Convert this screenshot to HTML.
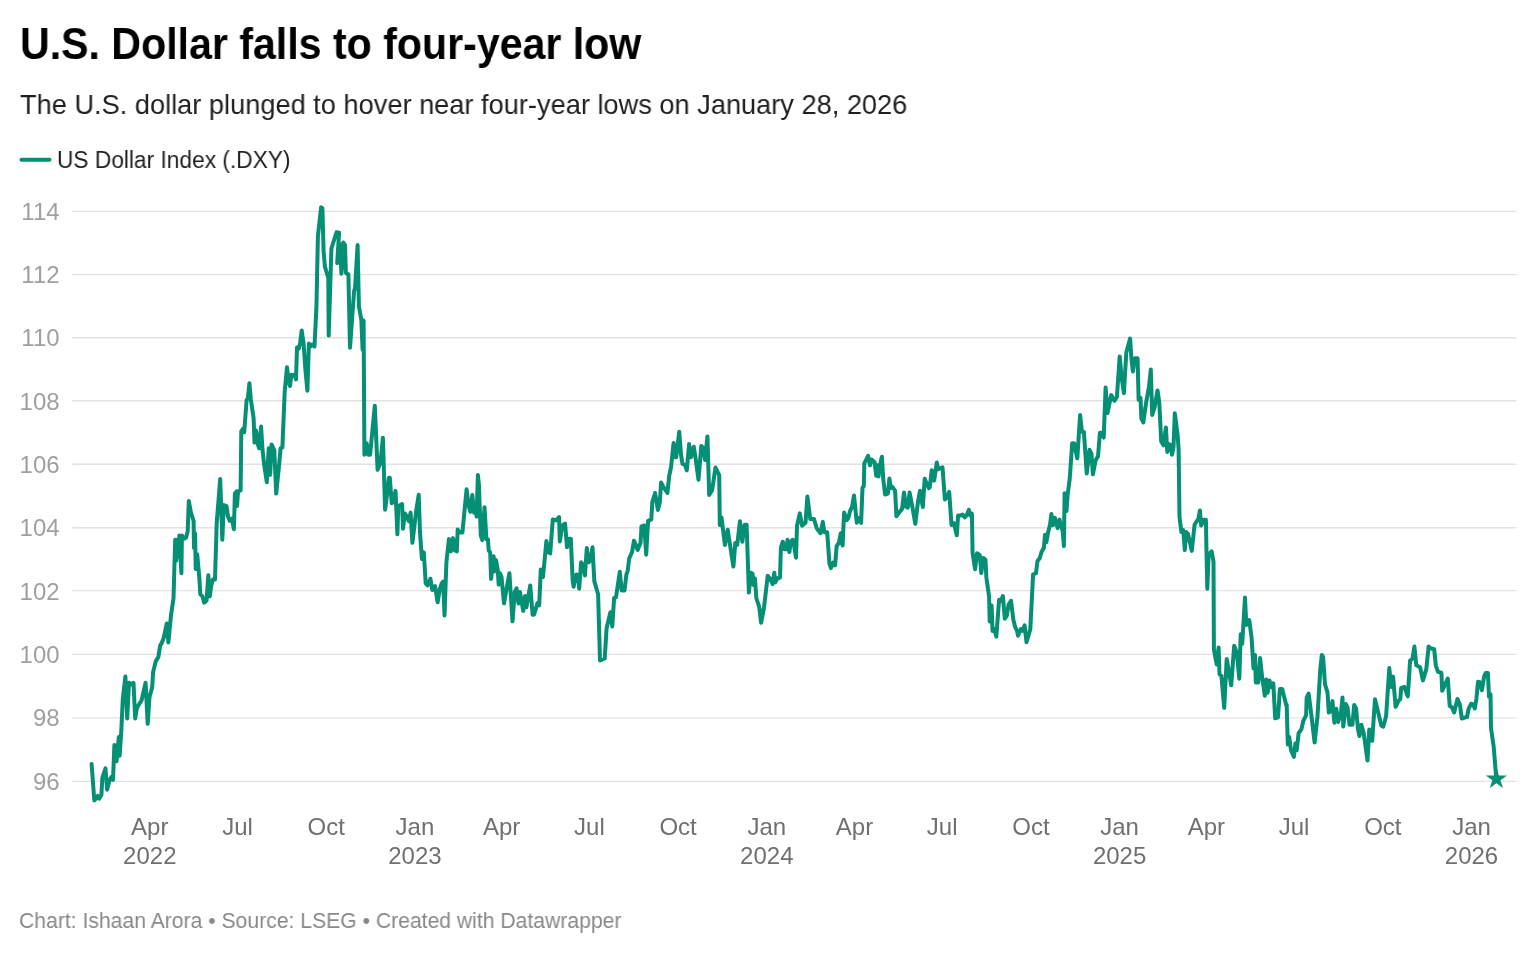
<!DOCTYPE html>
<html><head><meta charset="utf-8"><style>
html,body{margin:0;padding:0;background:#fff;}
body{width:1536px;height:954px;position:relative;overflow:hidden;font-family:"Liberation Sans",sans-serif;}
.t{position:absolute;white-space:nowrap;line-height:1;transform-origin:0 0;will-change:transform;}
svg{position:absolute;left:0;top:0;will-change:transform;}
</style></head><body>
<div class="t" style="left:19.53px;top:22.07px;font-size:44.57px;font-weight:700;color:#000;transform:scaleX(0.9225)">U.S. Dollar falls to four-year low</div>
<div class="t" style="left:19.76px;top:90.55px;font-size:27.83px;font-weight:400;color:#1f1f1f;transform:scaleX(0.9772)">The U.S. dollar plunged to hover near four-year lows on January 28, 2026</div>
<div class="t" style="left:56.58px;top:149.11px;font-size:23.71px;font-weight:400;color:#1f1f1f;transform:scaleX(0.9582)">US Dollar Index (.DXY)</div>
<div class="t" style="left:19.44px;top:910.3px;font-size:21.88px;font-weight:400;color:#888;transform:scaleX(0.9666)">Chart: Ishaan Arora • Source: LSEG • Created with Datawrapper</div>
<svg width="1536" height="954" viewBox="0 0 1536 954">
<line x1="72.2" y1="781.35" x2="1516.4" y2="781.35" stroke="#e2e2e2" stroke-width="1.4"/>
<text x="59.6" y="789.5" text-anchor="end" font-size="24" fill="#a0a0a0" font-family="Liberation Sans">96</text>
<line x1="72.2" y1="717.90" x2="1516.4" y2="717.90" stroke="#e2e2e2" stroke-width="1.4"/>
<text x="59.6" y="726.2" text-anchor="end" font-size="24" fill="#a0a0a0" font-family="Liberation Sans">98</text>
<line x1="72.2" y1="654.40" x2="1516.4" y2="654.40" stroke="#e2e2e2" stroke-width="1.4"/>
<text x="59.6" y="662.9" text-anchor="end" font-size="24" fill="#a0a0a0" font-family="Liberation Sans">100</text>
<line x1="72.2" y1="590.60" x2="1516.4" y2="590.60" stroke="#e2e2e2" stroke-width="1.4"/>
<text x="59.6" y="599.6" text-anchor="end" font-size="24" fill="#a0a0a0" font-family="Liberation Sans">102</text>
<line x1="72.2" y1="527.70" x2="1516.4" y2="527.70" stroke="#e2e2e2" stroke-width="1.4"/>
<text x="59.6" y="536.3" text-anchor="end" font-size="24" fill="#a0a0a0" font-family="Liberation Sans">104</text>
<line x1="72.2" y1="464.20" x2="1516.4" y2="464.20" stroke="#e2e2e2" stroke-width="1.4"/>
<text x="59.6" y="472.9" text-anchor="end" font-size="24" fill="#a0a0a0" font-family="Liberation Sans">106</text>
<line x1="72.2" y1="400.80" x2="1516.4" y2="400.80" stroke="#e2e2e2" stroke-width="1.4"/>
<text x="59.6" y="409.6" text-anchor="end" font-size="24" fill="#a0a0a0" font-family="Liberation Sans">108</text>
<line x1="72.2" y1="337.80" x2="1516.4" y2="337.80" stroke="#e2e2e2" stroke-width="1.4"/>
<text x="59.6" y="346.3" text-anchor="end" font-size="24" fill="#a0a0a0" font-family="Liberation Sans">110</text>
<line x1="72.2" y1="274.60" x2="1516.4" y2="274.60" stroke="#e2e2e2" stroke-width="1.4"/>
<text x="59.6" y="283.0" text-anchor="end" font-size="24" fill="#a0a0a0" font-family="Liberation Sans">112</text>
<line x1="72.2" y1="211.40" x2="1516.4" y2="211.40" stroke="#e2e2e2" stroke-width="1.4"/>
<text x="59.6" y="219.7" text-anchor="end" font-size="24" fill="#a0a0a0" font-family="Liberation Sans">114</text>
<line x1="21.5" y1="159.7" x2="49.5" y2="159.7" stroke="#058f75" stroke-width="4" stroke-linecap="round"/>
<text x="149.8" y="835.0" text-anchor="middle" font-size="24" fill="#707070" font-family="Liberation Sans">Apr</text>
<text x="149.8" y="864.3" text-anchor="middle" font-size="24" fill="#707070" font-family="Liberation Sans">2022</text>
<text x="237.5" y="835.0" text-anchor="middle" font-size="24" fill="#707070" font-family="Liberation Sans">Jul</text>
<text x="326.2" y="835.0" text-anchor="middle" font-size="24" fill="#707070" font-family="Liberation Sans">Oct</text>
<text x="414.9" y="835.0" text-anchor="middle" font-size="24" fill="#707070" font-family="Liberation Sans">Jan</text>
<text x="414.9" y="864.3" text-anchor="middle" font-size="24" fill="#707070" font-family="Liberation Sans">2023</text>
<text x="501.7" y="835.0" text-anchor="middle" font-size="24" fill="#707070" font-family="Liberation Sans">Apr</text>
<text x="589.4" y="835.0" text-anchor="middle" font-size="24" fill="#707070" font-family="Liberation Sans">Jul</text>
<text x="678.1" y="835.0" text-anchor="middle" font-size="24" fill="#707070" font-family="Liberation Sans">Oct</text>
<text x="766.8" y="835.0" text-anchor="middle" font-size="24" fill="#707070" font-family="Liberation Sans">Jan</text>
<text x="766.8" y="864.3" text-anchor="middle" font-size="24" fill="#707070" font-family="Liberation Sans">2024</text>
<text x="854.5" y="835.0" text-anchor="middle" font-size="24" fill="#707070" font-family="Liberation Sans">Apr</text>
<text x="942.2" y="835.0" text-anchor="middle" font-size="24" fill="#707070" font-family="Liberation Sans">Jul</text>
<text x="1030.9" y="835.0" text-anchor="middle" font-size="24" fill="#707070" font-family="Liberation Sans">Oct</text>
<text x="1119.6" y="835.0" text-anchor="middle" font-size="24" fill="#707070" font-family="Liberation Sans">Jan</text>
<text x="1119.6" y="864.3" text-anchor="middle" font-size="24" fill="#707070" font-family="Liberation Sans">2025</text>
<text x="1206.4" y="835.0" text-anchor="middle" font-size="24" fill="#707070" font-family="Liberation Sans">Apr</text>
<text x="1294.1" y="835.0" text-anchor="middle" font-size="24" fill="#707070" font-family="Liberation Sans">Jul</text>
<text x="1382.8" y="835.0" text-anchor="middle" font-size="24" fill="#707070" font-family="Liberation Sans">Oct</text>
<text x="1471.5" y="835.0" text-anchor="middle" font-size="24" fill="#707070" font-family="Liberation Sans">Jan</text>
<text x="1471.5" y="864.3" text-anchor="middle" font-size="24" fill="#707070" font-family="Liberation Sans">2026</text>
<path d="M91.6,763.9 L94.3,800.4 L96.0,798.6 L97.8,795.9 L99.2,798.6 L101.4,795.0 L102.3,778.1 L105.5,768.3 L107.1,789.7 L109.4,780.8 L111.2,777.2 L113.0,779.9 L114.4,745.1 L116.5,761.2 L118.8,737.1 L119.6,755.8 L121.3,730.9 L122.8,698.8 L125.4,676.5 L127.2,718.4 L129.0,682.8 L131.7,684.5 L133.5,682.8 L135.2,718.4 L137.0,707.7 L139.7,703.3 L141.5,700.6 L145.6,682.8 L147.7,723.8 L149.5,697.0 L152.2,687.2 L153.1,672.1 L155.7,661.4 L158.4,656.9 L160.2,645.4 L161.5,643.4 L163.6,638.2 L166.8,623.5 L168.4,642.4 L171.0,615.1 L173.5,598.4 L175.2,539.7 L176.2,560.6 L177.2,539.7 L178.9,556.4 L179.3,535.5 L181.4,573.2 L181.9,535.5 L183.5,537.6 L184.6,538.6 L186.1,537.6 L187.7,531.3 L188.8,500.9 L190.9,512.4 L193.6,520.8 L194.0,548.0 L195.1,533.4 L195.7,569.0 L197.2,554.3 L199.3,577.4 L200.3,594.2 L202.4,596.3 L204.1,602.6 L206.6,600.5 L208.3,575.3 L209.8,596.3 L211.2,585.8 L212.9,579.5 L215.0,579.5 L216.7,522.9 L220.2,478.9 L222.3,539.7 L223.8,505.1 L226.5,506.1 L228.0,516.6 L229.7,520.8 L231.8,518.7 L233.9,529.2 L234.9,493.5 L236.6,491.4 L237.0,506.1 L238.1,491.4 L240.6,490.4 L241.3,431.3 L243.2,428.5 L244.2,432.3 L246.6,400.2 L247.9,398.3 L249.4,383.2 L250.8,399.2 L253.6,418.1 L254.5,442.6 L256.0,430.4 L257.9,444.5 L259.2,448.3 L261.1,426.6 L262.4,448.3 L264.0,463.4 L266.8,482.3 L268.7,448.3 L270.2,474.7 L271.5,444.5 L274.3,450.2 L276.2,493.6 L278.7,469.1 L280.6,448.3 L282.4,447.4 L284.7,391.7 L287.0,367.2 L288.5,380.4 L290.0,386.0 L291.3,374.7 L293.2,375.7 L294.5,374.7 L296.0,379.4 L297.0,347.4 L298.9,348.3 L300.2,342.6 L301.7,330.4 L303.6,343.6 L305.5,370.9 L307.4,390.8 L308.9,343.6 L310.8,346.4 L312.1,344.5 L314.5,346.4 L316.4,308.2 L317.9,236.5 L321.1,207.3 L322.4,208.2 L323.6,251.6 L324.9,266.7 L328.3,278.0 L328.7,335.6 L331.4,248.5 L336.6,232.2 L339.1,232.6 L337.2,263.2 L340.2,244.3 L341.4,273.7 L343.3,242.6 L345.0,245.2 L345.9,272.8 L348.4,274.5 L350.0,347.8 L352.3,315.8 L354.1,291.2 L355.1,287.4 L357.6,245.0 L358.9,306.3 L361.3,319.5 L362.6,349.7 L363.6,320.5 L364.4,454.7 L366.7,443.4 L368.2,454.7 L370.1,454.7 L374.8,405.7 L377.6,469.8 L380.5,462.3 L382.9,437.7 L385.1,509.8 L387.0,494.7 L388.9,477.7 L389.8,477.7 L391.7,503.2 L393.0,502.3 L395.5,490.9 L397.4,534.3 L398.3,506.0 L402.1,504.1 L403.0,528.7 L404.9,513.6 L406.8,516.4 L408.7,521.1 L410.6,512.6 L412.4,542.8 L416.2,510.8 L418.7,494.7 L420.0,532.5 L421.9,558.9 L423.8,552.3 L425.7,583.4 L427.6,585.3 L430.4,578.7 L432.3,590.0 L435.1,586.2 L437.6,602.3 L439.8,589.1 L441.7,583.4 L443.2,581.5 L444.5,615.5 L446.4,562.6 L448.9,539.1 L450.8,551.3 L453.0,538.1 L454.9,550.4 L456.8,551.3 L457.7,529.6 L459.6,532.5 L462.4,532.5 L466.6,489.2 L468.5,505.3 L470.4,511.9 L472.3,494.9 L474.1,512.8 L475.5,503.4 L476.6,516.6 L477.9,475.1 L478.9,484.5 L480.8,535.5 L482.3,540.2 L484.5,507.2 L486.4,539.2 L487.9,539.2 L488.7,550.6 L490.2,552.5 L491.1,578.9 L493.6,556.2 L494.9,571.3 L495.9,560.0 L497.7,569.4 L498.7,584.5 L500.0,573.2 L501.5,577.0 L504.0,603.4 L505.3,595.9 L509.4,573.2 L512.5,621.3 L514.7,592.1 L516.6,588.3 L518.5,603.4 L520.0,592.1 L523.2,610.9 L525.1,595.9 L526.4,607.2 L530.2,585.5 L532.6,614.7 L534.0,614.7 L537.4,603.4 L539.2,605.3 L540.8,569.4 L543.0,577.0 L546.4,541.1 L548.7,552.5 L550.2,553.4 L552.8,519.4 L556.2,520.4 L559.1,517.0 L559.8,541.5 L562.3,525.5 L565.1,523.6 L567.0,547.2 L568.9,538.7 L570.8,538.7 L572.6,579.2 L573.6,586.8 L576.4,574.5 L578.3,575.5 L579.2,588.7 L581.1,562.3 L583.0,565.1 L584.9,575.5 L586.8,548.1 L588.7,562.3 L590.6,560.4 L592.5,547.2 L594.3,581.1 L598.1,594.3 L600.0,660.4 L604.7,658.5 L606.6,628.3 L610.4,612.3 L612.3,626.4 L614.1,598.1 L616.0,597.2 L619.8,571.7 L621.7,590.6 L624.5,590.6 L626.4,574.5 L627.7,570.8 L629.2,558.5 L632.1,551.9 L634.0,540.6 L637.7,550.0 L640.6,542.5 L641.5,526.4 L644.3,525.5 L646.2,554.7 L648.1,520.8 L651.3,519.4 L652.3,502.4 L655.1,493.0 L657.9,510.0 L659.8,502.4 L661.1,482.6 L663.6,487.4 L667.4,493.0 L669.2,476.0 L671.1,466.6 L673.6,443.0 L674.9,457.2 L676.2,457.2 L679.2,431.7 L681.1,455.3 L682.5,463.8 L684.9,464.7 L686.8,470.4 L689.1,444.0 L690.9,457.2 L693.8,446.8 L695.7,459.1 L698.5,479.8 L701.3,445.9 L703.2,447.7 L705.1,460.0 L707.4,436.4 L709.2,494.9 L712.1,490.2 L715.5,467.6 L719.2,475.1 L719.8,525.1 L721.5,517.5 L724.9,544.9 L727.7,529.8 L729.6,542.1 L733.4,566.6 L735.3,543.0 L737.2,544.9 L740.0,521.3 L742.3,541.7 L744.7,524.7 L746.6,524.7 L748.9,592.6 L750.8,572.8 L752.6,573.8 L753.6,585.1 L754.9,578.5 L756.4,598.3 L759.2,606.8 L761.1,622.8 L764.0,607.7 L767.7,575.7 L770.6,579.4 L772.5,584.1 L774.3,572.8 L775.3,582.3 L777.2,578.5 L780.0,577.5 L780.9,547.4 L782.8,541.7 L784.3,549.2 L786.6,549.2 L787.5,539.8 L789.4,552.1 L790.8,541.7 L792.6,539.8 L794.1,545.5 L796.0,557.7 L797.0,525.7 L799.8,513.4 L802.1,525.7 L805.5,522.8 L807.4,496.4 L810.2,519.1 L814.0,519.1 L816.8,528.5 L820.6,533.2 L822.8,521.9 L824.3,532.3 L827.2,532.3 L829.4,563.4 L830.9,568.1 L833.2,562.5 L835.1,565.3 L836.6,546.4 L838.9,542.6 L840.8,533.2 L842.6,545.5 L844.1,512.5 L846.8,520.0 L848.3,518.1 L850.2,510.6 L852.1,506.8 L854.0,495.5 L856.8,522.8 L858.7,518.1 L861.1,522.8 L862.5,487.9 L863.8,486.0 L864.3,463.4 L868.1,455.9 L870.0,465.3 L871.9,459.6 L874.7,462.4 L876.2,475.7 L877.5,465.3 L878.5,476.6 L880.0,465.3 L881.9,456.8 L883.2,478.5 L885.1,494.5 L887.9,493.6 L889.4,478.5 L890.8,487.9 L892.6,487.0 L895.1,490.8 L896.4,516.2 L899.2,512.5 L902.1,508.7 L904.0,492.6 L905.9,506.8 L907.7,507.7 L909.6,492.6 L912.5,507.7 L915.3,523.8 L918.1,501.1 L920.0,490.8 L922.8,507.0 L924.7,478.7 L927.0,484.3 L928.9,488.1 L929.8,487.2 L931.7,470.2 L934.1,480.6 L936.8,462.6 L938.3,469.2 L940.2,468.3 L942.5,467.4 L944.9,499.4 L947.4,496.6 L949.2,491.9 L951.5,524.9 L953.8,523.0 L956.8,535.3 L958.1,515.5 L960.6,515.5 L962.5,514.5 L964.7,517.4 L966.6,515.5 L968.9,509.8 L970.4,515.5 L971.9,513.6 L972.6,553.2 L975.1,569.2 L977.0,553.2 L979.8,555.1 L981.3,573.0 L983.2,557.9 L985.5,559.8 L986.4,577.7 L989.1,596.6 L989.7,621.5 L991.6,605.5 L992.5,630.9 L994.4,629.1 L996.3,636.6 L999.1,599.8 L1001.0,600.8 L1002.9,596.0 L1004.8,618.7 L1006.7,615.9 L1008.6,604.5 L1011.0,600.8 L1013.3,619.6 L1015.2,627.2 L1017.1,630.9 L1018.0,635.7 L1020.9,629.1 L1022.7,630.9 L1024.6,625.3 L1026.5,642.3 L1030.3,629.1 L1033.1,574.3 L1035.9,573.4 L1037.5,561.1 L1039.7,558.3 L1041.6,551.7 L1043.9,547.9 L1045.0,534.7 L1046.3,542.3 L1048.2,531.9 L1050.1,524.3 L1051.4,514.0 L1052.9,525.3 L1054.8,517.7 L1057.6,528.1 L1059.5,519.6 L1061.4,527.2 L1062.7,530.9 L1063.9,546.0 L1064.6,493.2 L1066.5,511.1 L1067.6,495.1 L1069.7,479.1 L1072.2,443.2 L1074.1,443.2 L1077.3,458.3 L1080.1,414.9 L1082.0,431.9 L1083.9,431.9 L1086.7,473.4 L1089.5,449.8 L1091.4,453.6 L1092.9,474.3 L1095.6,460.2 L1098.0,456.4 L1099.9,432.8 L1101.8,432.8 L1103.7,437.6 L1105.6,387.6 L1107.5,413.0 L1111.2,395.1 L1114.4,400.8 L1116.9,397.0 L1119.7,356.4 L1121.6,377.2 L1123.9,393.2 L1126.3,352.6 L1130.1,338.5 L1131.4,358.3 L1132.9,371.5 L1134.8,358.3 L1137.6,358.3 L1138.6,399.8 L1140.5,397.9 L1141.4,418.7 L1143.3,422.4 L1146.1,402.6 L1149.0,386.6 L1150.8,369.6 L1152.2,414.9 L1154.6,407.4 L1157.5,390.4 L1159.3,402.6 L1161.2,441.3 L1163.5,445.3 L1165.9,427.4 L1167.3,451.9 L1169.2,444.3 L1171.0,445.3 L1172.0,454.7 L1173.5,447.2 L1174.8,413.2 L1177.6,434.9 L1178.6,449.1 L1179.5,517.0 L1181.4,532.1 L1183.3,530.2 L1184.8,550.0 L1186.1,532.1 L1188.0,534.0 L1191.8,550.9 L1194.6,524.5 L1198.4,518.9 L1199.9,510.4 L1201.2,525.5 L1203.7,519.8 L1205.9,519.8 L1206.3,541.9 L1207.3,588.7 L1208.6,555.1 L1211.6,551.3 L1213.5,561.7 L1213.9,649.4 L1216.7,664.5 L1218.6,647.5 L1219.5,674.0 L1221.4,675.9 L1224.2,707.9 L1226.7,658.9 L1229.0,672.1 L1231.2,685.3 L1234.2,645.7 L1236.9,653.2 L1239.3,678.7 L1240.7,634.3 L1242.2,643.8 L1245.0,597.5 L1246.3,624.9 L1249.3,620.2 L1251.6,638.1 L1253.5,668.3 L1255.0,655.1 L1255.8,682.5 L1258.2,682.5 L1260.1,657.9 L1262.0,675.9 L1264.8,695.7 L1266.3,679.6 L1267.6,692.8 L1269.5,680.6 L1271.4,687.2 L1273.3,683.4 L1275.2,718.3 L1278.0,717.4 L1279.9,689.1 L1282.2,689.1 L1284.6,698.5 L1286.5,706.0 L1286.7,704.9 L1287.8,744.5 L1289.2,737.0 L1291.0,750.2 L1293.9,756.8 L1295.4,743.6 L1296.7,750.2 L1298.6,733.2 L1301.4,729.4 L1303.3,720.9 L1306.1,715.3 L1306.7,697.4 L1308.6,693.6 L1310.8,710.6 L1314.6,742.6 L1317.5,716.2 L1320.3,669.1 L1321.8,654.9 L1323.1,656.8 L1325.0,684.1 L1327.5,692.6 L1328.8,712.5 L1330.7,711.5 L1332.5,701.1 L1334.4,722.8 L1336.3,708.7 L1338.2,721.9 L1341.0,712.5 L1342.5,697.4 L1343.3,726.6 L1345.8,704.0 L1347.6,707.7 L1349.5,724.7 L1352.4,724.7 L1354.2,704.9 L1356.1,708.7 L1358.0,729.4 L1359.5,736.0 L1361.4,724.7 L1363.7,733.2 L1367.5,760.6 L1369.3,729.4 L1372.2,740.8 L1375.0,699.2 L1378.6,714.3 L1381.4,725.7 L1383.3,726.6 L1386.1,716.2 L1389.3,668.1 L1391.2,687.0 L1393.1,676.6 L1395.6,706.8 L1398.4,701.1 L1400.3,699.2 L1401.2,687.9 L1404.4,687.0 L1407.8,696.4 L1410.1,660.6 L1412.5,658.7 L1414.4,646.4 L1416.3,665.3 L1420.1,667.2 L1422.9,680.4 L1426.3,669.1 L1428.6,646.4 L1430.5,648.3 L1434.2,649.2 L1435.8,665.3 L1438.0,671.9 L1441.4,672.8 L1442.2,690.8 L1445.2,684.1 L1447.8,678.5 L1449.7,705.9 L1452.2,707.7 L1454.1,712.5 L1457.5,699.0 L1459.9,704.5 L1461.8,718.6 L1463.8,717.8 L1467.0,717.0 L1468.5,709.2 L1471.2,703.7 L1473.2,704.5 L1474.8,708.4 L1476.4,699.0 L1478.0,681.7 L1480.3,682.5 L1481.9,690.3 L1484.2,676.2 L1485.8,673.0 L1487.9,673.0 L1489.0,696.6 L1490.5,694.2 L1491.0,728.0 L1493.7,746.9 L1496.0,775.2 L1496.8,778.4" fill="none" stroke="#058f75" stroke-width="4" stroke-linejoin="round" stroke-linecap="round"/>
<polygon points="1496.40,767.70 1498.91,775.44 1507.05,775.44 1500.47,780.22 1502.98,787.96 1496.40,783.18 1489.82,787.96 1492.33,780.22 1485.75,775.44 1493.89,775.44" fill="#058f75"/>
</svg>
</body></html>
